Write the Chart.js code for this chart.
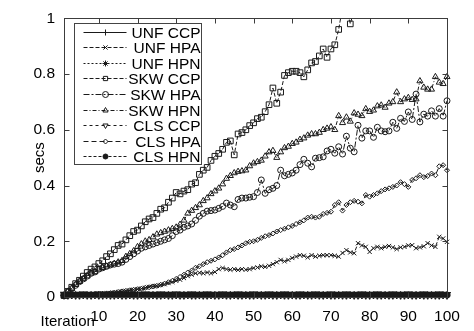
<!DOCTYPE html>
<html>
<head>
<meta charset="utf-8">
<title>secs per iteration</title>
<script src="https://cdn.jsdelivr.net/npm/chart.js@4.4.1/dist/chart.umd.min.js"></script>
<style>
  html, body { margin: 0; padding: 0; background: #fff; }
  canvas { display: block; }
</style>
</head>
<body>
<canvas id="timeChart" width="474" height="331"></canvas>
<script>
// x = iteration number 1..100
const iterations = Array.from({ length: 100 }, (_, i) => i + 1);

const xTicks = [10, 20, 30, 40, 50, 60, 70, 80, 90, 100];
const yTicks = [0, 0.2, 0.4, 0.6, 0.8, 1];

// seconds per iteration, one array per run
const unfCcp = [
  0.004,0.004,0.005,0.004,0.004,0.005,0.004,0.004,0.005,0.004,
  0.004,0.005,0.004,0.004,0.005,0.004,0.004,0.005,0.004,0.004,
  0.005,0.004,0.004,0.005,0.004,0.004,0.005,0.004,0.004,0.005,
  0.004,0.004,0.005,0.004,0.004,0.005,0.004,0.004,0.005,0.004,
  0.004,0.005,0.004,0.004,0.005,0.004,0.004,0.005,0.004,0.004,
  0.005,0.004,0.004,0.005,0.004,0.004,0.005,0.004,0.004,0.005,
  0.004,0.004,0.005,0.004,0.004,0.005,0.004,0.004,0.005,0.004,
  0.004,0.005,0.004,0.004,0.005,0.004,0.004,0.005,0.004,0.004,
  0.005,0.004,0.004,0.005,0.004,0.004,0.005,0.004,0.004,0.005,
  0.004,0.004,0.005,0.004,0.004,0.005,0.004,0.004,0.005,0.004
];
const unfHpa = [
  0.002,0.003,0.004,0.005,0.006,0.007,0.008,0.009,0.010,0.011,
  0.012,0.013,0.014,0.016,0.018,0.020,0.022,0.024,0.026,0.028,
  0.030,0.033,0.036,0.038,0.040,0.043,0.046,0.050,0.054,0.058,
  0.062,0.068,0.075,0.080,0.085,0.087,0.085,0.088,0.085,0.090,
  0.100,0.104,0.100,0.098,0.100,0.097,0.100,0.098,0.100,0.104,
  0.106,0.110,0.108,0.112,0.118,0.125,0.133,0.128,0.133,0.140,
  0.145,0.150,0.148,0.142,0.150,0.145,0.148,0.150,0.150,0.150,
  0.148,0.145,0.158,0.168,0.160,0.157,0.193,0.185,0.180,0.162,
  0.175,0.180,0.175,0.180,0.183,0.178,0.172,0.178,0.180,0.185,
  0.186,0.175,0.178,0.182,0.193,0.185,0.180,0.216,0.210,0.198
];
const unfHpn = [
  0.007,0.006,0.007,0.008,0.007,0.006,0.007,0.008,0.007,0.006,
  0.007,0.008,0.007,0.006,0.007,0.008,0.007,0.006,0.007,0.008,
  0.007,0.006,0.007,0.008,0.007,0.006,0.007,0.008,0.007,0.006,
  0.007,0.008,0.007,0.006,0.007,0.008,0.007,0.006,0.007,0.008,
  0.007,0.006,0.007,0.008,0.007,0.006,0.007,0.008,0.007,0.006,
  0.007,0.008,0.007,0.006,0.007,0.008,0.007,0.006,0.007,0.008,
  0.007,0.006,0.007,0.008,0.007,0.006,0.007,0.008,0.007,0.006,
  0.007,0.008,0.007,0.006,0.007,0.008,0.007,0.006,0.007,0.008,
  0.007,0.006,0.007,0.008,0.007,0.006,0.007,0.008,0.007,0.006,
  0.007,0.008,0.007,0.006,0.007,0.008,0.007,0.006,0.007,0.008
];
const skwCcp = [
  0.005,0.020,0.035,0.048,0.060,0.075,0.088,0.100,0.108,0.120,
  0.130,0.145,0.155,0.170,0.185,0.190,0.205,0.220,0.235,0.240,
  0.255,0.270,0.280,0.285,0.300,0.315,0.320,0.340,0.355,0.375,
  0.370,0.380,0.385,0.405,0.410,0.440,0.455,0.465,0.490,0.505,
  0.515,0.530,0.555,0.560,0.510,0.585,0.590,0.600,0.615,0.625,
  0.640,0.645,0.665,0.690,0.750,0.695,0.735,0.795,0.805,0.810,
  0.810,0.805,0.790,0.815,0.840,0.845,0.865,0.890,0.860,0.890,
  0.905,0.960,1.040,1.050,0.980,1.030,1.060,1.080,1.100,1.120,
  1.130,1.150,1.170,1.180,1.200,1.220,1.230,1.250,1.270,1.280,
  1.300,1.310,1.330,1.350,1.360,1.380,1.390,1.410,1.420,1.440
];
const skwHpa = [
  0.005,0.018,0.030,0.042,0.055,0.065,0.075,0.085,0.090,0.100,
  0.105,0.110,0.115,0.118,0.120,0.125,0.135,0.145,0.155,0.165,
  0.175,0.180,0.185,0.190,0.195,0.200,0.205,0.210,0.220,0.235,
  0.240,0.250,0.255,0.262,0.275,0.290,0.300,0.308,0.310,0.312,
  0.318,0.325,0.337,0.330,0.324,0.350,0.355,0.355,0.358,0.360,
  0.375,0.420,0.372,0.385,0.390,0.400,0.455,0.435,0.440,0.445,
  0.455,0.475,0.494,0.480,0.467,0.498,0.500,0.503,0.524,0.530,
  0.516,0.539,0.513,0.577,0.534,0.521,0.616,0.570,0.596,0.596,
  0.573,0.609,0.596,0.593,0.596,0.627,0.605,0.641,0.630,0.664,
  0.637,0.728,0.628,0.656,0.649,0.668,0.649,0.676,0.649,0.704
];
const skwHpn = [
  0.005,0.020,0.030,0.045,0.055,0.065,0.075,0.085,0.090,0.100,
  0.105,0.110,0.115,0.120,0.125,0.130,0.145,0.155,0.165,0.180,
  0.190,0.200,0.205,0.215,0.225,0.230,0.235,0.240,0.245,0.250,
  0.260,0.275,0.300,0.310,0.320,0.330,0.345,0.355,0.370,0.380,
  0.390,0.405,0.425,0.435,0.445,0.450,0.452,0.455,0.470,0.480,
  0.485,0.490,0.505,0.520,0.525,0.500,0.520,0.535,0.540,0.550,
  0.555,0.565,0.570,0.580,0.585,0.585,0.590,0.600,0.605,0.610,
  0.600,0.650,0.625,0.645,0.630,0.660,0.655,0.650,0.675,0.665,
  0.670,0.685,0.688,0.680,0.695,0.700,0.735,0.700,0.710,0.715,
  0.708,0.710,0.775,0.752,0.745,0.745,0.790,0.770,0.765,0.790
];
const clsCcp = [
  0.010,0.011,0.010,0.009,0.010,0.011,0.010,0.009,0.010,0.011,
  0.010,0.009,0.010,0.011,0.010,0.009,0.010,0.011,0.010,0.009,
  0.010,0.011,0.010,0.009,0.010,0.011,0.010,0.009,0.010,0.011,
  0.010,0.009,0.010,0.011,0.010,0.009,0.010,0.011,0.010,0.009,
  0.010,0.011,0.010,0.009,0.010,0.011,0.010,0.009,0.010,0.011,
  0.010,0.009,0.010,0.011,0.010,0.009,0.010,0.011,0.010,0.009,
  0.010,0.011,0.010,0.009,0.010,0.011,0.010,0.009,0.010,0.011,
  0.010,0.009,0.010,0.011,0.010,0.009,0.010,0.011,0.010,0.009,
  0.010,0.011,0.010,0.009,0.010,0.011,0.010,0.009,0.010,0.011,
  0.010,0.009,0.010,0.011,0.010,0.009,0.010,0.011,0.010,0.009
];
const clsHpa = [
  0.002,0.003,0.004,0.005,0.006,0.007,0.008,0.009,0.010,0.011,
  0.012,0.013,0.014,0.016,0.018,0.020,0.022,0.024,0.026,0.028,
  0.030,0.033,0.035,0.038,0.040,0.044,0.048,0.053,0.058,0.065,
  0.072,0.080,0.088,0.095,0.105,0.110,0.118,0.125,0.130,0.135,
  0.142,0.150,0.160,0.168,0.172,0.178,0.185,0.193,0.198,0.200,
  0.205,0.212,0.218,0.222,0.228,0.235,0.240,0.245,0.250,0.255,
  0.262,0.268,0.275,0.285,0.288,0.285,0.288,0.298,0.302,0.306,
  0.330,0.340,0.310,0.330,0.340,0.345,0.342,0.336,0.366,0.360,
  0.366,0.372,0.380,0.386,0.390,0.395,0.400,0.412,0.405,0.395,
  0.420,0.426,0.437,0.430,0.434,0.443,0.437,0.469,0.473,0.455
];
const clsHpn = [
  0.006,0.006,0.007,0.006,0.006,0.007,0.006,0.006,0.007,0.006,
  0.006,0.007,0.006,0.006,0.007,0.006,0.006,0.007,0.006,0.006,
  0.007,0.006,0.006,0.007,0.006,0.006,0.007,0.006,0.006,0.007,
  0.006,0.006,0.007,0.006,0.006,0.007,0.006,0.006,0.007,0.006,
  0.006,0.007,0.006,0.006,0.007,0.006,0.006,0.007,0.006,0.006,
  0.007,0.006,0.006,0.007,0.006,0.006,0.007,0.006,0.006,0.007,
  0.006,0.006,0.007,0.006,0.006,0.007,0.006,0.006,0.007,0.006,
  0.006,0.007,0.006,0.006,0.007,0.006,0.006,0.007,0.006,0.006,
  0.007,0.006,0.006,0.007,0.006,0.006,0.007,0.006,0.006,0.007,
  0.006,0.006,0.007,0.006,0.006,0.007,0.006,0.006,0.007,0.006
];

const FONT = '"Liberation Sans", Arial, Helvetica, sans-serif';
const INK = '#1a1a1a';

function toPoints(values) {
  return values.map((v, i) => ({ x: iterations[i], y: v }));
}

// label, values, point style, radius, dash, rotation, filled, marker stroke
function series(label, values, style, radius, dash, rotation, filled, stroke) {
  return {
    label,
    data: toPoints(values),
    borderColor: INK,
    borderWidth: 1,
    borderDash: dash,
    pointStyle: style,
    pointRadius: radius,
    pointRotation: rotation || 0,
    pointBorderColor: INK,
    pointBorderWidth: stroke || 1,
    pointBackgroundColor: filled ? INK : 'rgba(0,0,0,0)',
    tension: 0,
    clip: { left: 4, right: 4, top: 0, bottom: 5 }
  };
}

const datasets = [
  series('UNF CCP', unfCcp, 'cross', 3.5, [], 0, false, 1.4),
  series('UNF HPA', unfHpa, 'crossRot', 3, [4, 2], 0, false),
  series('UNF HPN', unfHpn, 'star', 3.5, [2, 2], 0, false, 1.4),
  series('SKW CCP', skwCcp, 'rect', 4, [4, 2], 0, false),
  series('SKW HPA', skwHpa, 'circle', 3, [6, 2, 2, 2], 0, false),
  series('SKW HPN', skwHpn, 'triangle', 3.5, [4, 2, 1, 2], 0, false),
  series('CLS CCP', clsCcp, 'triangle', 3.5, [3, 3], 180, false, 1.4),
  series('CLS HPA', clsHpa, 'rectRot', 2.5, [5, 3], 0, false),
  series('CLS HPN', clsHpn, 'circle', 2.5, [3, 2], 0, true, 1.2)
];

// frame with inward ticks, axis titles and the boxed key
const framePlugin = {
  id: 'frame',
  afterDraw(chart) {
    const { ctx, chartArea: a, scales } = chart;
    const xs = scales.x, ys = scales.y;
    const L = Math.round(a.left) + 0.5, R = Math.round(a.right) + 0.5;
    const T = Math.round(a.top) + 0.5, B = Math.round(a.bottom) + 0.5;
    ctx.save();
    ctx.strokeStyle = '#3c3c3c';
    ctx.lineWidth = 1;
    ctx.beginPath();
    xTicks.forEach(v => {
      const px = Math.round(xs.getPixelForValue(v)) + 0.5;
      ctx.moveTo(px, B); ctx.lineTo(px, B - 5);
      ctx.moveTo(px, T); ctx.lineTo(px, T + 5);
    });
    yTicks.forEach(v => {
      const py = Math.round(ys.getPixelForValue(v)) + 0.5;
      ctx.moveTo(L, py); ctx.lineTo(L + 5, py);
      ctx.moveTo(R, py); ctx.lineTo(R - 5, py);
    });
    ctx.stroke();
    ctx.strokeRect(L, T, R - L, B - T);

    // axis titles
    ctx.fillStyle = '#000';
    ctx.font = '15px ' + FONT;
    ctx.textAlign = 'right';
    ctx.textBaseline = 'alphabetic';
    ctx.fillText('Iteration', xs.getPixelForValue(10) - 4, a.bottom + 29);
    ctx.save();
    ctx.translate(44, (a.top + a.bottom) / 2);
    ctx.rotate(-Math.PI / 2);
    ctx.textAlign = 'center';
    ctx.fillText('secs', 0, 0);
    ctx.restore();

    // key
    const bx = Math.round(a.left) + 10.5, by = Math.round(a.top) + 5.5;
    const bw = 127, bh = 141;
    ctx.fillStyle = '#fff';
    ctx.fillRect(bx, by, bw, bh);
    ctx.strokeStyle = '#444';
    ctx.strokeRect(bx, by, bw, bh);
    ctx.font = '15.5px ' + FONT;
    ctx.textAlign = 'right';
    ctx.textBaseline = 'middle';
    chart.data.datasets.forEach((ds, i) => {
      const cy = Math.round(by + 8 + i * 15.6) + 0.5;
      ctx.strokeStyle = INK;
      ctx.lineWidth = 1;
      ctx.setLineDash(ds.borderDash);
      ctx.beginPath();
      ctx.moveTo(bx + 9, cy);
      ctx.lineTo(bx + 52, cy);
      ctx.stroke();
      ctx.setLineDash([]);
      ctx.fillStyle = ds.pointBackgroundColor;
      Chart.helpers.drawPoint(ctx, {
        pointStyle: ds.pointStyle,
        rotation: ds.pointRotation,
        radius: Math.min(ds.pointRadius, 3),
        borderWidth: 1
      }, bx + 31, cy);
      ctx.fillStyle = '#000';
      ctx.fillText(ds.label, bx + bw - 1, cy + 1);
    });
    ctx.restore();
  }
};

new Chart(document.getElementById('timeChart'), {
  type: 'line',
  data: { datasets },
  options: {
    responsive: false,
    animation: false,
    devicePixelRatio: 1,
    layout: { padding: { top: 18, right: 27, left: 0, bottom: 0 } },
    plugins: {
      legend: { display: false },
      tooltip: { enabled: false }
    },
    scales: {
      x: {
        type: 'linear',
        min: 1,
        max: 100,
        grid: { display: false, drawTicks: false },
        border: { display: false },
        afterBuildTicks: s => { s.ticks = xTicks.map(v => ({ value: v })); },
        afterFit: s => { s.height = 34; },
        ticks: {
          color: '#000',
          padding: 10,
          maxRotation: 0,
          font: { size: 15.5, family: FONT }
        }
      },
      y: {
        min: 0,
        max: 1,
        grid: { display: false, drawTicks: false },
        border: { display: false },
        afterBuildTicks: s => { s.ticks = yTicks.map(v => ({ value: v })); },
        afterFit: s => { s.width = 64; },
        ticks: {
          color: '#000',
          padding: 9,
          font: { size: 15.5, family: FONT },
          callback: v => String(v)
        }
      }
    }
  },
  plugins: [framePlugin]
});
</script>
</body>
</html>
